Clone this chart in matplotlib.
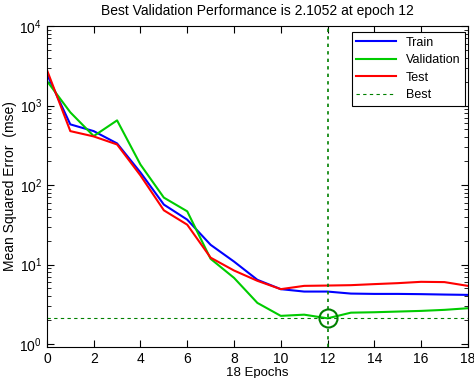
import numpy as np
import matplotlib
matplotlib.use('Agg')
import matplotlib.pyplot as plt

plt.rcParams['font.family'] = ['Liberation Sans', 'DejaVu Sans']
plt.rcParams['mathtext.default'] = 'regular'

epochs = np.arange(19)
train = [2478, 580, 477, 334, 144, 56.8, 36.7, 17.7, 10.9, 6.42, 4.90,
         4.57, 4.57, 4.31, 4.27, 4.27, 4.24, 4.19, 4.15]
validation = [2040, 822, 413, 651, 181, 69.5, 46.7, 11.8, 6.80, 3.29, 2.26,
              2.34, 2.1052, 2.48, 2.51, 2.56, 2.61, 2.69, 2.82]
test = [2810, 477, 409, 324, 132, 48.1, 31.7, 12.2, 8.41, 6.24, 4.90,
        5.39, 5.44, 5.50, 5.67, 5.83, 6.06, 6.01, 5.39]
best_epoch = 12
best_perf = 2.1052

fig = plt.figure(figsize=(4.74, 3.78), dpi=100)
ax = fig.add_axes([0.099, 0.082, 0.888, 0.849])

ax.semilogy(epochs, train, color=(0, 0, 1), lw=1.5, label='Train')
ax.semilogy(epochs, validation, color=(0, 0.8, 0), lw=1.5, label='Validation')
ax.semilogy(epochs, test, color=(1, 0, 0), lw=1.5, label='Test')
ax.axhline(best_perf, color=(0, 0.5, 0), ls=(0, (3, 3)), lw=0.8, label='Best')
ax.axvline(best_epoch, color=(0, 0.5, 0), ls=(0, (2, 2.5)), lw=1.2)
ax.plot(best_epoch, best_perf, 'o', ms=13, mfc='none', mec=(0, 0.5, 0), mew=1.5)

ax.set_xlim(0, 18)
ax.set_ylim(0.917, 1e4)
ax.set_xticks(np.arange(0, 19, 2))
ax.tick_params(direction='in', top=True, right=True, which='both', labelsize=10)
ax.tick_params(which='major', length=5)
ax.tick_params(which='minor', length=3)

ax.set_title('Best Validation Performance is 2.1052 at epoch 12', fontsize=10, pad=8)
ax.set_xlabel('18 Epochs', fontsize=9.5, labelpad=1)
ax.set_ylabel('Mean Squared Error  (mse)', fontsize=10, labelpad=2)

leg = ax.legend(loc='upper right', bbox_to_anchor=(0.993, 0.981), fontsize=9,
                fancybox=False, framealpha=1, edgecolor='black', handlelength=3.2,
                borderaxespad=0, borderpad=0.35, labelspacing=0.45)
leg.get_frame().set_linewidth(0.8)

fig.savefig('out.png', dpi=100)
